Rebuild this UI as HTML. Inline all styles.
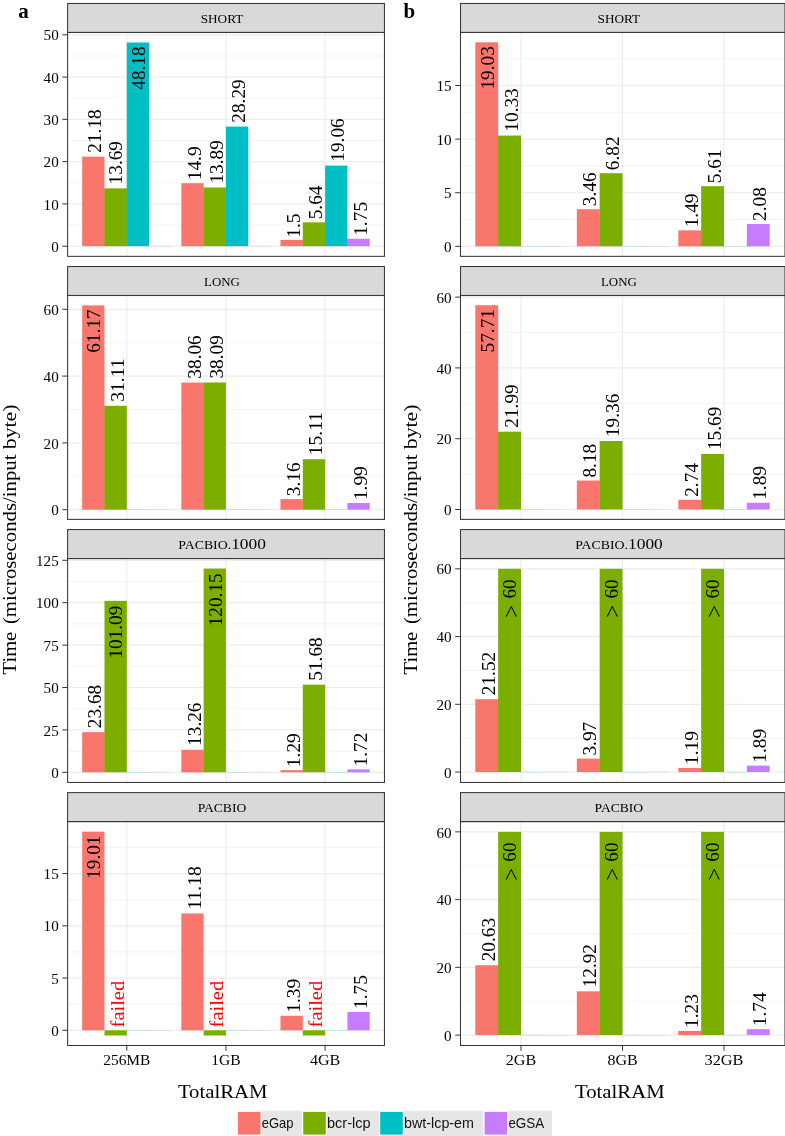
<!DOCTYPE html>
<html lang="en">
<head>
<meta charset="utf-8">
<title>Running time per input byte versus total RAM</title>
<style>
html,body{margin:0;padding:0;background:#fff;}
body{width:785px;height:1136px;overflow:hidden;}
svg{display:block;}
text{white-space:pre;}
</style>
</head>
<body>
<svg width="785" height="1136" viewBox="0 0 785 1136">
<rect x="0" y="0" width="785" height="1136" fill="#fff"/>
<rect x="67.6" y="32.45" width="316.85" height="223.90" fill="#fff"/>
<line x1="67.6" x2="384.45" y1="225.06" y2="225.06" stroke="#f4f4f4" stroke-width="1.1"/>
<line x1="67.6" x2="384.45" y1="182.78" y2="182.78" stroke="#f4f4f4" stroke-width="1.1"/>
<line x1="67.6" x2="384.45" y1="140.50" y2="140.50" stroke="#f4f4f4" stroke-width="1.1"/>
<line x1="67.6" x2="384.45" y1="98.22" y2="98.22" stroke="#f4f4f4" stroke-width="1.1"/>
<line x1="67.6" x2="384.45" y1="55.94" y2="55.94" stroke="#f4f4f4" stroke-width="1.1"/>
<line x1="67.6" x2="384.45" y1="246.20" y2="246.20" stroke="#ededed" stroke-width="1.2"/>
<line x1="67.6" x2="384.45" y1="203.92" y2="203.92" stroke="#ededed" stroke-width="1.2"/>
<line x1="67.6" x2="384.45" y1="161.64" y2="161.64" stroke="#ededed" stroke-width="1.2"/>
<line x1="67.6" x2="384.45" y1="119.36" y2="119.36" stroke="#ededed" stroke-width="1.2"/>
<line x1="67.6" x2="384.45" y1="77.08" y2="77.08" stroke="#ededed" stroke-width="1.2"/>
<line x1="67.6" x2="384.45" y1="34.80" y2="34.80" stroke="#ededed" stroke-width="1.2"/>
<line x1="126.80" x2="126.80" y1="32.45" y2="256.35" stroke="#ededed" stroke-width="1.2"/>
<line x1="225.95" x2="225.95" y1="32.45" y2="256.35" stroke="#ededed" stroke-width="1.2"/>
<line x1="325.10" x2="325.10" y1="32.45" y2="256.35" stroke="#ededed" stroke-width="1.2"/>
<rect x="82.18" y="156.65" width="22.31" height="89.55" fill="#F8766D"/>
<rect x="104.29" y="188.32" width="0.8" height="57.88" fill="#F8766D"/>
<text x="101.44" y="152.71" transform="rotate(-90 101.44 152.71)" font-family="'Liberation Serif', serif" font-size="18.9" text-anchor="start" fill="#000" textLength="43.40" lengthAdjust="spacingAndGlyphs">21.18</text>
<rect x="104.49" y="188.32" width="22.31" height="57.88" fill="#7CAE00"/>
<rect x="126.60" y="188.32" width="0.8" height="57.88" fill="#7CAE00"/>
<text x="121.95" y="184.38" transform="rotate(-90 121.95 184.38)" font-family="'Liberation Serif', serif" font-size="18.9" text-anchor="start" fill="#000" textLength="43.40" lengthAdjust="spacingAndGlyphs">13.69</text>
<rect x="126.80" y="42.49" width="22.31" height="203.71" fill="#00BFC4"/>
<text x="144.75" y="46.33" transform="rotate(-90 144.75 46.33)" font-family="'Liberation Serif', serif" font-size="18.9" text-anchor="end" fill="#000" textLength="43.40" lengthAdjust="spacingAndGlyphs">48.18</text>
<rect x="149.11" y="246.00" width="22.31" height="0.4" fill="#C77CFF" opacity="0.45"/>
<rect x="181.33" y="183.20" width="22.31" height="63.00" fill="#F8766D"/>
<rect x="203.44" y="187.47" width="0.8" height="58.73" fill="#F8766D"/>
<text x="200.59" y="180.22" transform="rotate(-90 200.59 180.22)" font-family="'Liberation Serif', serif" font-size="18.9" text-anchor="start" fill="#000" textLength="33.87" lengthAdjust="spacingAndGlyphs">14.9</text>
<rect x="203.64" y="187.47" width="22.31" height="58.73" fill="#7CAE00"/>
<rect x="225.75" y="187.47" width="0.8" height="58.73" fill="#7CAE00"/>
<text x="222.90" y="183.53" transform="rotate(-90 222.90 183.53)" font-family="'Liberation Serif', serif" font-size="18.9" text-anchor="start" fill="#000" textLength="43.40" lengthAdjust="spacingAndGlyphs">13.89</text>
<rect x="225.95" y="126.59" width="22.31" height="119.61" fill="#00BFC4"/>
<text x="245.20" y="122.65" transform="rotate(-90 245.20 122.65)" font-family="'Liberation Serif', serif" font-size="18.9" text-anchor="start" fill="#000" textLength="43.40" lengthAdjust="spacingAndGlyphs">28.29</text>
<rect x="248.26" y="246.00" width="22.31" height="0.4" fill="#C77CFF" opacity="0.45"/>
<rect x="280.48" y="239.86" width="22.31" height="6.34" fill="#F8766D"/>
<rect x="302.59" y="239.86" width="0.8" height="6.34" fill="#F8766D"/>
<text x="299.74" y="237.82" transform="rotate(-90 299.74 237.82)" font-family="'Liberation Serif', serif" font-size="18.9" text-anchor="start" fill="#000" textLength="24.35" lengthAdjust="spacingAndGlyphs">1.5</text>
<rect x="302.79" y="222.35" width="22.31" height="23.85" fill="#7CAE00"/>
<rect x="324.90" y="222.35" width="0.8" height="23.85" fill="#7CAE00"/>
<text x="322.05" y="219.37" transform="rotate(-90 322.05 219.37)" font-family="'Liberation Serif', serif" font-size="18.9" text-anchor="start" fill="#000" textLength="33.87" lengthAdjust="spacingAndGlyphs">5.64</text>
<rect x="325.10" y="165.61" width="22.31" height="80.59" fill="#00BFC4"/>
<rect x="347.21" y="238.80" width="0.8" height="7.40" fill="#00BFC4"/>
<text x="344.35" y="161.67" transform="rotate(-90 344.35 161.67)" font-family="'Liberation Serif', serif" font-size="18.9" text-anchor="start" fill="#000" textLength="43.40" lengthAdjust="spacingAndGlyphs">19.06</text>
<rect x="347.41" y="238.80" width="22.31" height="7.40" fill="#C77CFF"/>
<text x="366.66" y="235.81" transform="rotate(-90 366.66 235.81)" font-family="'Liberation Serif', serif" font-size="18.9" text-anchor="start" fill="#000" textLength="33.87" lengthAdjust="spacingAndGlyphs">1.75</text>
<rect x="67.6" y="3.45" width="316.85" height="29.00" fill="#d9d9d9" stroke="#383838" stroke-width="1.05"/>
<rect x="67.6" y="32.45" width="316.85" height="223.90" fill="none" stroke="#383838" stroke-width="1.05"/>
<text x="222.00" y="22.70" font-family="'Liberation Serif', serif" font-size="11.7" text-anchor="middle" fill="#000" textLength="42.60" lengthAdjust="spacingAndGlyphs">SHORT</text>
<line x1="62.30" x2="67.60" y1="246.20" y2="246.20" stroke="#383838" stroke-width="1.0"/>
<text x="58.70" y="251.85" font-family="'Liberation Serif', serif" font-size="15" text-anchor="end" fill="#000" textLength="7.55" lengthAdjust="spacingAndGlyphs">0</text>
<line x1="62.30" x2="67.60" y1="203.92" y2="203.92" stroke="#383838" stroke-width="1.0"/>
<text x="58.70" y="209.57" font-family="'Liberation Serif', serif" font-size="15" text-anchor="end" fill="#000" textLength="15.10" lengthAdjust="spacingAndGlyphs">10</text>
<line x1="62.30" x2="67.60" y1="161.64" y2="161.64" stroke="#383838" stroke-width="1.0"/>
<text x="58.70" y="167.29" font-family="'Liberation Serif', serif" font-size="15" text-anchor="end" fill="#000" textLength="15.10" lengthAdjust="spacingAndGlyphs">20</text>
<line x1="62.30" x2="67.60" y1="119.36" y2="119.36" stroke="#383838" stroke-width="1.0"/>
<text x="58.70" y="125.01" font-family="'Liberation Serif', serif" font-size="15" text-anchor="end" fill="#000" textLength="15.10" lengthAdjust="spacingAndGlyphs">30</text>
<line x1="62.30" x2="67.60" y1="77.08" y2="77.08" stroke="#383838" stroke-width="1.0"/>
<text x="58.70" y="82.73" font-family="'Liberation Serif', serif" font-size="15" text-anchor="end" fill="#000" textLength="15.10" lengthAdjust="spacingAndGlyphs">40</text>
<line x1="62.30" x2="67.60" y1="34.80" y2="34.80" stroke="#383838" stroke-width="1.0"/>
<text x="58.70" y="40.45" font-family="'Liberation Serif', serif" font-size="15" text-anchor="end" fill="#000" textLength="15.10" lengthAdjust="spacingAndGlyphs">50</text>
<rect x="67.6" y="295.5" width="316.85" height="223.90" fill="#fff"/>
<line x1="67.6" x2="384.45" y1="476.30" y2="476.30" stroke="#f4f4f4" stroke-width="1.1"/>
<line x1="67.6" x2="384.45" y1="409.50" y2="409.50" stroke="#f4f4f4" stroke-width="1.1"/>
<line x1="67.6" x2="384.45" y1="342.70" y2="342.70" stroke="#f4f4f4" stroke-width="1.1"/>
<line x1="67.6" x2="384.45" y1="509.70" y2="509.70" stroke="#ededed" stroke-width="1.2"/>
<line x1="67.6" x2="384.45" y1="442.90" y2="442.90" stroke="#ededed" stroke-width="1.2"/>
<line x1="67.6" x2="384.45" y1="376.10" y2="376.10" stroke="#ededed" stroke-width="1.2"/>
<line x1="67.6" x2="384.45" y1="309.30" y2="309.30" stroke="#ededed" stroke-width="1.2"/>
<line x1="126.80" x2="126.80" y1="295.5" y2="519.4000000000001" stroke="#ededed" stroke-width="1.2"/>
<line x1="225.95" x2="225.95" y1="295.5" y2="519.4000000000001" stroke="#ededed" stroke-width="1.2"/>
<line x1="325.10" x2="325.10" y1="295.5" y2="519.4000000000001" stroke="#ededed" stroke-width="1.2"/>
<rect x="82.18" y="305.39" width="22.31" height="204.31" fill="#F8766D"/>
<rect x="104.29" y="405.79" width="0.8" height="103.91" fill="#F8766D"/>
<text x="100.14" y="309.23" transform="rotate(-90 100.14 309.23)" font-family="'Liberation Serif', serif" font-size="18.9" text-anchor="end" fill="#000" textLength="43.40" lengthAdjust="spacingAndGlyphs">61.17</text>
<rect x="104.49" y="405.79" width="22.31" height="103.91" fill="#7CAE00"/>
<text x="123.75" y="401.85" transform="rotate(-90 123.75 401.85)" font-family="'Liberation Serif', serif" font-size="18.9" text-anchor="start" fill="#000" textLength="43.40" lengthAdjust="spacingAndGlyphs">31.11</text>
<rect x="126.80" y="509.50" width="22.31" height="0.4" fill="#00BFC4" opacity="0.45"/>
<rect x="149.11" y="509.50" width="22.31" height="0.4" fill="#C77CFF" opacity="0.45"/>
<rect x="181.33" y="382.58" width="22.31" height="127.12" fill="#F8766D"/>
<rect x="203.44" y="382.58" width="0.8" height="127.12" fill="#F8766D"/>
<text x="200.59" y="378.64" transform="rotate(-90 200.59 378.64)" font-family="'Liberation Serif', serif" font-size="18.9" text-anchor="start" fill="#000" textLength="43.40" lengthAdjust="spacingAndGlyphs">38.06</text>
<rect x="203.64" y="382.48" width="22.31" height="127.22" fill="#7CAE00"/>
<text x="222.90" y="378.54" transform="rotate(-90 222.90 378.54)" font-family="'Liberation Serif', serif" font-size="18.9" text-anchor="start" fill="#000" textLength="43.40" lengthAdjust="spacingAndGlyphs">38.09</text>
<rect x="225.95" y="509.50" width="22.31" height="0.4" fill="#00BFC4" opacity="0.45"/>
<rect x="248.26" y="509.50" width="22.31" height="0.4" fill="#C77CFF" opacity="0.45"/>
<rect x="280.48" y="499.15" width="22.31" height="10.55" fill="#F8766D"/>
<rect x="302.59" y="499.15" width="0.8" height="10.55" fill="#F8766D"/>
<text x="299.74" y="496.16" transform="rotate(-90 299.74 496.16)" font-family="'Liberation Serif', serif" font-size="18.9" text-anchor="start" fill="#000" textLength="33.87" lengthAdjust="spacingAndGlyphs">3.16</text>
<rect x="302.79" y="459.23" width="22.31" height="50.47" fill="#7CAE00"/>
<text x="322.05" y="455.29" transform="rotate(-90 322.05 455.29)" font-family="'Liberation Serif', serif" font-size="18.9" text-anchor="start" fill="#000" textLength="43.40" lengthAdjust="spacingAndGlyphs">15.11</text>
<rect x="325.10" y="509.50" width="22.31" height="0.4" fill="#00BFC4" opacity="0.45"/>
<rect x="347.41" y="503.05" width="22.31" height="6.65" fill="#C77CFF"/>
<text x="366.66" y="500.07" transform="rotate(-90 366.66 500.07)" font-family="'Liberation Serif', serif" font-size="18.9" text-anchor="start" fill="#000" textLength="33.87" lengthAdjust="spacingAndGlyphs">1.99</text>
<rect x="67.6" y="266.5" width="316.85" height="29.00" fill="#d9d9d9" stroke="#383838" stroke-width="1.05"/>
<rect x="67.6" y="295.5" width="316.85" height="223.90" fill="none" stroke="#383838" stroke-width="1.05"/>
<text x="222.00" y="285.75" font-family="'Liberation Serif', serif" font-size="11.7" text-anchor="middle" fill="#000" textLength="35.90" lengthAdjust="spacingAndGlyphs">LONG</text>
<line x1="62.30" x2="67.60" y1="509.70" y2="509.70" stroke="#383838" stroke-width="1.0"/>
<text x="58.70" y="515.35" font-family="'Liberation Serif', serif" font-size="15" text-anchor="end" fill="#000" textLength="7.55" lengthAdjust="spacingAndGlyphs">0</text>
<line x1="62.30" x2="67.60" y1="442.90" y2="442.90" stroke="#383838" stroke-width="1.0"/>
<text x="58.70" y="448.55" font-family="'Liberation Serif', serif" font-size="15" text-anchor="end" fill="#000" textLength="15.10" lengthAdjust="spacingAndGlyphs">20</text>
<line x1="62.30" x2="67.60" y1="376.10" y2="376.10" stroke="#383838" stroke-width="1.0"/>
<text x="58.70" y="381.75" font-family="'Liberation Serif', serif" font-size="15" text-anchor="end" fill="#000" textLength="15.10" lengthAdjust="spacingAndGlyphs">40</text>
<line x1="62.30" x2="67.60" y1="309.30" y2="309.30" stroke="#383838" stroke-width="1.0"/>
<text x="58.70" y="314.95" font-family="'Liberation Serif', serif" font-size="15" text-anchor="end" fill="#000" textLength="15.10" lengthAdjust="spacingAndGlyphs">60</text>
<rect x="67.6" y="558.5500000000001" width="316.85" height="223.90" fill="#fff"/>
<line x1="67.6" x2="384.45" y1="751.10" y2="751.10" stroke="#f4f4f4" stroke-width="1.1"/>
<line x1="67.6" x2="384.45" y1="708.70" y2="708.70" stroke="#f4f4f4" stroke-width="1.1"/>
<line x1="67.6" x2="384.45" y1="666.30" y2="666.30" stroke="#f4f4f4" stroke-width="1.1"/>
<line x1="67.6" x2="384.45" y1="623.90" y2="623.90" stroke="#f4f4f4" stroke-width="1.1"/>
<line x1="67.6" x2="384.45" y1="581.50" y2="581.50" stroke="#f4f4f4" stroke-width="1.1"/>
<line x1="67.6" x2="384.45" y1="772.30" y2="772.30" stroke="#ededed" stroke-width="1.2"/>
<line x1="67.6" x2="384.45" y1="729.90" y2="729.90" stroke="#ededed" stroke-width="1.2"/>
<line x1="67.6" x2="384.45" y1="687.50" y2="687.50" stroke="#ededed" stroke-width="1.2"/>
<line x1="67.6" x2="384.45" y1="645.10" y2="645.10" stroke="#ededed" stroke-width="1.2"/>
<line x1="67.6" x2="384.45" y1="602.70" y2="602.70" stroke="#ededed" stroke-width="1.2"/>
<line x1="67.6" x2="384.45" y1="560.30" y2="560.30" stroke="#ededed" stroke-width="1.2"/>
<line x1="126.80" x2="126.80" y1="558.5500000000001" y2="782.45" stroke="#ededed" stroke-width="1.2"/>
<line x1="225.95" x2="225.95" y1="558.5500000000001" y2="782.45" stroke="#ededed" stroke-width="1.2"/>
<line x1="325.10" x2="325.10" y1="558.5500000000001" y2="782.45" stroke="#ededed" stroke-width="1.2"/>
<rect x="82.18" y="732.14" width="22.31" height="40.16" fill="#F8766D"/>
<rect x="104.29" y="732.14" width="0.8" height="40.16" fill="#F8766D"/>
<text x="101.44" y="728.20" transform="rotate(-90 101.44 728.20)" font-family="'Liberation Serif', serif" font-size="18.9" text-anchor="start" fill="#000" textLength="43.40" lengthAdjust="spacingAndGlyphs">23.68</text>
<rect x="104.49" y="600.85" width="22.31" height="171.45" fill="#7CAE00"/>
<text x="122.45" y="605.64" transform="rotate(-90 122.45 605.64)" font-family="'Liberation Serif', serif" font-size="18.9" text-anchor="end" fill="#000" textLength="52.92" lengthAdjust="spacingAndGlyphs">101.09</text>
<rect x="126.80" y="772.10" width="22.31" height="0.4" fill="#00BFC4" opacity="0.45"/>
<rect x="149.11" y="772.10" width="22.31" height="0.4" fill="#C77CFF" opacity="0.45"/>
<rect x="181.33" y="749.81" width="22.31" height="22.49" fill="#F8766D"/>
<rect x="203.44" y="749.81" width="0.8" height="22.49" fill="#F8766D"/>
<text x="200.59" y="745.87" transform="rotate(-90 200.59 745.87)" font-family="'Liberation Serif', serif" font-size="18.9" text-anchor="start" fill="#000" textLength="43.40" lengthAdjust="spacingAndGlyphs">13.26</text>
<rect x="203.64" y="568.53" width="22.31" height="203.77" fill="#7CAE00"/>
<text x="221.60" y="573.32" transform="rotate(-90 221.60 573.32)" font-family="'Liberation Serif', serif" font-size="18.9" text-anchor="end" fill="#000" textLength="52.92" lengthAdjust="spacingAndGlyphs">120.15</text>
<rect x="225.95" y="772.10" width="22.31" height="0.4" fill="#00BFC4" opacity="0.45"/>
<rect x="248.26" y="772.10" width="22.31" height="0.4" fill="#C77CFF" opacity="0.45"/>
<rect x="280.48" y="770.11" width="22.31" height="2.19" fill="#F8766D"/>
<rect x="302.59" y="770.11" width="0.8" height="2.19" fill="#F8766D"/>
<text x="299.74" y="767.13" transform="rotate(-90 299.74 767.13)" font-family="'Liberation Serif', serif" font-size="18.9" text-anchor="start" fill="#000" textLength="33.87" lengthAdjust="spacingAndGlyphs">1.29</text>
<rect x="302.79" y="684.65" width="22.31" height="87.65" fill="#7CAE00"/>
<text x="322.05" y="680.71" transform="rotate(-90 322.05 680.71)" font-family="'Liberation Serif', serif" font-size="18.9" text-anchor="start" fill="#000" textLength="43.40" lengthAdjust="spacingAndGlyphs">51.68</text>
<rect x="325.10" y="772.10" width="22.31" height="0.4" fill="#00BFC4" opacity="0.45"/>
<rect x="347.41" y="769.38" width="22.31" height="2.92" fill="#C77CFF"/>
<text x="366.66" y="766.40" transform="rotate(-90 366.66 766.40)" font-family="'Liberation Serif', serif" font-size="18.9" text-anchor="start" fill="#000" textLength="33.87" lengthAdjust="spacingAndGlyphs">1.72</text>
<rect x="67.6" y="529.5500000000001" width="316.85" height="29.00" fill="#d9d9d9" stroke="#383838" stroke-width="1.05"/>
<rect x="67.6" y="558.5500000000001" width="316.85" height="223.90" fill="none" stroke="#383838" stroke-width="1.05"/>
<text x="178.30" y="548.80" font-family="'Liberation Serif', serif" fill="#000" textLength="87.6" lengthAdjust="spacingAndGlyphs"><tspan font-size="11.7">PACBIO.</tspan><tspan font-size="14.7">1000</tspan></text>
<line x1="62.30" x2="67.60" y1="772.30" y2="772.30" stroke="#383838" stroke-width="1.0"/>
<text x="58.70" y="777.95" font-family="'Liberation Serif', serif" font-size="15" text-anchor="end" fill="#000" textLength="7.55" lengthAdjust="spacingAndGlyphs">0</text>
<line x1="62.30" x2="67.60" y1="729.90" y2="729.90" stroke="#383838" stroke-width="1.0"/>
<text x="58.70" y="735.55" font-family="'Liberation Serif', serif" font-size="15" text-anchor="end" fill="#000" textLength="15.10" lengthAdjust="spacingAndGlyphs">25</text>
<line x1="62.30" x2="67.60" y1="687.50" y2="687.50" stroke="#383838" stroke-width="1.0"/>
<text x="58.70" y="693.15" font-family="'Liberation Serif', serif" font-size="15" text-anchor="end" fill="#000" textLength="15.10" lengthAdjust="spacingAndGlyphs">50</text>
<line x1="62.30" x2="67.60" y1="645.10" y2="645.10" stroke="#383838" stroke-width="1.0"/>
<text x="58.70" y="650.75" font-family="'Liberation Serif', serif" font-size="15" text-anchor="end" fill="#000" textLength="15.10" lengthAdjust="spacingAndGlyphs">75</text>
<line x1="62.30" x2="67.60" y1="602.70" y2="602.70" stroke="#383838" stroke-width="1.0"/>
<text x="58.70" y="608.35" font-family="'Liberation Serif', serif" font-size="15" text-anchor="end" fill="#000" textLength="22.65" lengthAdjust="spacingAndGlyphs">100</text>
<line x1="62.30" x2="67.60" y1="560.30" y2="560.30" stroke="#383838" stroke-width="1.0"/>
<text x="58.70" y="565.95" font-family="'Liberation Serif', serif" font-size="15" text-anchor="end" fill="#000" textLength="22.65" lengthAdjust="spacingAndGlyphs">125</text>
<rect x="67.6" y="821.6000000000001" width="316.85" height="223.90" fill="#fff"/>
<line x1="67.6" x2="384.45" y1="1004.17" y2="1004.17" stroke="#f4f4f4" stroke-width="1.1"/>
<line x1="67.6" x2="384.45" y1="951.92" y2="951.92" stroke="#f4f4f4" stroke-width="1.1"/>
<line x1="67.6" x2="384.45" y1="899.67" y2="899.67" stroke="#f4f4f4" stroke-width="1.1"/>
<line x1="67.6" x2="384.45" y1="847.42" y2="847.42" stroke="#f4f4f4" stroke-width="1.1"/>
<line x1="67.6" x2="384.45" y1="1030.30" y2="1030.30" stroke="#ededed" stroke-width="1.2"/>
<line x1="67.6" x2="384.45" y1="978.05" y2="978.05" stroke="#ededed" stroke-width="1.2"/>
<line x1="67.6" x2="384.45" y1="925.80" y2="925.80" stroke="#ededed" stroke-width="1.2"/>
<line x1="67.6" x2="384.45" y1="873.55" y2="873.55" stroke="#ededed" stroke-width="1.2"/>
<line x1="126.80" x2="126.80" y1="821.6000000000001" y2="1045.5" stroke="#ededed" stroke-width="1.2"/>
<line x1="225.95" x2="225.95" y1="821.6000000000001" y2="1045.5" stroke="#ededed" stroke-width="1.2"/>
<line x1="325.10" x2="325.10" y1="821.6000000000001" y2="1045.5" stroke="#ededed" stroke-width="1.2"/>
<rect x="82.18" y="831.65" width="22.31" height="198.65" fill="#F8766D"/>
<text x="100.14" y="835.49" transform="rotate(-90 100.14 835.49)" font-family="'Liberation Serif', serif" font-size="18.9" text-anchor="end" fill="#000" textLength="43.40" lengthAdjust="spacingAndGlyphs">19.01</text>
<rect x="104.49" y="1030.30" width="22.31" height="5.22" fill="#7CAE00"/>
<text x="123.95" y="1027.40" transform="rotate(-90 123.95 1027.40)" font-family="'Liberation Serif', serif" font-size="18.9" text-anchor="start" fill="#ff0000" textLength="46.60" lengthAdjust="spacingAndGlyphs">failed</text>
<rect x="126.80" y="1030.10" width="22.31" height="0.4" fill="#00BFC4" opacity="0.45"/>
<rect x="149.11" y="1030.10" width="22.31" height="0.4" fill="#C77CFF" opacity="0.45"/>
<rect x="181.33" y="913.47" width="22.31" height="116.83" fill="#F8766D"/>
<text x="200.59" y="909.53" transform="rotate(-90 200.59 909.53)" font-family="'Liberation Serif', serif" font-size="18.9" text-anchor="start" fill="#000" textLength="43.40" lengthAdjust="spacingAndGlyphs">11.18</text>
<rect x="203.64" y="1030.30" width="22.31" height="5.22" fill="#7CAE00"/>
<text x="223.10" y="1027.40" transform="rotate(-90 223.10 1027.40)" font-family="'Liberation Serif', serif" font-size="18.9" text-anchor="start" fill="#ff0000" textLength="46.60" lengthAdjust="spacingAndGlyphs">failed</text>
<rect x="225.95" y="1030.10" width="22.31" height="0.4" fill="#00BFC4" opacity="0.45"/>
<rect x="248.26" y="1030.10" width="22.31" height="0.4" fill="#C77CFF" opacity="0.45"/>
<rect x="280.48" y="1015.77" width="22.31" height="14.53" fill="#F8766D"/>
<text x="299.74" y="1012.79" transform="rotate(-90 299.74 1012.79)" font-family="'Liberation Serif', serif" font-size="18.9" text-anchor="start" fill="#000" textLength="33.87" lengthAdjust="spacingAndGlyphs">1.39</text>
<rect x="302.79" y="1030.30" width="22.31" height="5.22" fill="#7CAE00"/>
<text x="322.25" y="1027.40" transform="rotate(-90 322.25 1027.40)" font-family="'Liberation Serif', serif" font-size="18.9" text-anchor="start" fill="#ff0000" textLength="46.60" lengthAdjust="spacingAndGlyphs">failed</text>
<rect x="325.10" y="1030.10" width="22.31" height="0.4" fill="#00BFC4" opacity="0.45"/>
<rect x="347.41" y="1012.01" width="22.31" height="18.29" fill="#C77CFF"/>
<text x="366.66" y="1009.03" transform="rotate(-90 366.66 1009.03)" font-family="'Liberation Serif', serif" font-size="18.9" text-anchor="start" fill="#000" textLength="33.87" lengthAdjust="spacingAndGlyphs">1.75</text>
<rect x="67.6" y="792.6000000000001" width="316.85" height="29.00" fill="#d9d9d9" stroke="#383838" stroke-width="1.05"/>
<rect x="67.6" y="821.6000000000001" width="316.85" height="223.90" fill="none" stroke="#383838" stroke-width="1.05"/>
<text x="222.00" y="811.85" font-family="'Liberation Serif', serif" font-size="11.7" text-anchor="middle" fill="#000" textLength="48.60" lengthAdjust="spacingAndGlyphs">PACBIO</text>
<line x1="62.30" x2="67.60" y1="1030.30" y2="1030.30" stroke="#383838" stroke-width="1.0"/>
<text x="58.70" y="1035.95" font-family="'Liberation Serif', serif" font-size="15" text-anchor="end" fill="#000" textLength="7.55" lengthAdjust="spacingAndGlyphs">0</text>
<line x1="62.30" x2="67.60" y1="978.05" y2="978.05" stroke="#383838" stroke-width="1.0"/>
<text x="58.70" y="983.70" font-family="'Liberation Serif', serif" font-size="15" text-anchor="end" fill="#000" textLength="7.55" lengthAdjust="spacingAndGlyphs">5</text>
<line x1="62.30" x2="67.60" y1="925.80" y2="925.80" stroke="#383838" stroke-width="1.0"/>
<text x="58.70" y="931.45" font-family="'Liberation Serif', serif" font-size="15" text-anchor="end" fill="#000" textLength="15.10" lengthAdjust="spacingAndGlyphs">10</text>
<line x1="62.30" x2="67.60" y1="873.55" y2="873.55" stroke="#383838" stroke-width="1.0"/>
<text x="58.70" y="879.20" font-family="'Liberation Serif', serif" font-size="15" text-anchor="end" fill="#000" textLength="15.10" lengthAdjust="spacingAndGlyphs">15</text>
<line x1="126.80" x2="126.80" y1="1045.5" y2="1050.80" stroke="#383838" stroke-width="1.0"/>
<text x="126.80" y="1065.30" font-family="'Liberation Serif', serif" font-size="15.4" text-anchor="middle" fill="#000" textLength="47.20" lengthAdjust="spacingAndGlyphs">256MB</text>
<line x1="225.95" x2="225.95" y1="1045.5" y2="1050.80" stroke="#383838" stroke-width="1.0"/>
<text x="225.95" y="1065.30" font-family="'Liberation Serif', serif" font-size="15.4" text-anchor="middle" fill="#000" textLength="29.40" lengthAdjust="spacingAndGlyphs">1GB</text>
<line x1="325.10" x2="325.10" y1="1045.5" y2="1050.80" stroke="#383838" stroke-width="1.0"/>
<text x="325.10" y="1065.30" font-family="'Liberation Serif', serif" font-size="15.4" text-anchor="middle" fill="#000" textLength="30.40" lengthAdjust="spacingAndGlyphs">4GB</text>
<text x="222.70" y="1097.90" font-family="'Liberation Serif', serif" font-size="19.4" text-anchor="middle" fill="#000" textLength="89.60" lengthAdjust="spacingAndGlyphs">TotalRAM</text>
<rect x="460.5" y="32.45" width="324.50" height="223.90" fill="#fff"/>
<line x1="460.5" x2="785.0" y1="219.50" y2="219.50" stroke="#f4f4f4" stroke-width="1.1"/>
<line x1="460.5" x2="785.0" y1="165.90" y2="165.90" stroke="#f4f4f4" stroke-width="1.1"/>
<line x1="460.5" x2="785.0" y1="112.30" y2="112.30" stroke="#f4f4f4" stroke-width="1.1"/>
<line x1="460.5" x2="785.0" y1="58.70" y2="58.70" stroke="#f4f4f4" stroke-width="1.1"/>
<line x1="460.5" x2="785.0" y1="246.30" y2="246.30" stroke="#ededed" stroke-width="1.2"/>
<line x1="460.5" x2="785.0" y1="192.70" y2="192.70" stroke="#ededed" stroke-width="1.2"/>
<line x1="460.5" x2="785.0" y1="139.10" y2="139.10" stroke="#ededed" stroke-width="1.2"/>
<line x1="460.5" x2="785.0" y1="85.50" y2="85.50" stroke="#ededed" stroke-width="1.2"/>
<line x1="521.00" x2="521.00" y1="32.45" y2="256.35" stroke="#ededed" stroke-width="1.2"/>
<line x1="622.50" x2="622.50" y1="32.45" y2="256.35" stroke="#ededed" stroke-width="1.2"/>
<line x1="724.00" x2="724.00" y1="32.45" y2="256.35" stroke="#ededed" stroke-width="1.2"/>
<rect x="475.32" y="42.30" width="22.84" height="204.00" fill="#F8766D"/>
<rect x="497.96" y="135.56" width="0.8" height="110.74" fill="#F8766D"/>
<text x="493.54" y="46.14" transform="rotate(-90 493.54 46.14)" font-family="'Liberation Serif', serif" font-size="18.9" text-anchor="end" fill="#000" textLength="43.40" lengthAdjust="spacingAndGlyphs">19.03</text>
<rect x="498.16" y="135.56" width="22.84" height="110.74" fill="#7CAE00"/>
<text x="517.68" y="131.62" transform="rotate(-90 517.68 131.62)" font-family="'Liberation Serif', serif" font-size="18.9" text-anchor="start" fill="#000" textLength="43.40" lengthAdjust="spacingAndGlyphs">10.33</text>
<rect x="521.00" y="246.10" width="22.84" height="0.4" fill="#00BFC4" opacity="0.45"/>
<rect x="543.84" y="246.10" width="22.84" height="0.4" fill="#C77CFF" opacity="0.45"/>
<rect x="576.83" y="209.21" width="22.84" height="37.09" fill="#F8766D"/>
<rect x="599.46" y="209.21" width="0.8" height="37.09" fill="#F8766D"/>
<text x="596.34" y="206.22" transform="rotate(-90 596.34 206.22)" font-family="'Liberation Serif', serif" font-size="18.9" text-anchor="start" fill="#000" textLength="33.87" lengthAdjust="spacingAndGlyphs">3.46</text>
<rect x="599.66" y="173.19" width="22.84" height="73.11" fill="#7CAE00"/>
<text x="619.18" y="170.20" transform="rotate(-90 619.18 170.20)" font-family="'Liberation Serif', serif" font-size="18.9" text-anchor="start" fill="#000" textLength="33.87" lengthAdjust="spacingAndGlyphs">6.82</text>
<rect x="622.50" y="246.10" width="22.84" height="0.4" fill="#00BFC4" opacity="0.45"/>
<rect x="645.34" y="246.10" width="22.84" height="0.4" fill="#C77CFF" opacity="0.45"/>
<rect x="678.33" y="230.33" width="22.84" height="15.97" fill="#F8766D"/>
<rect x="700.96" y="230.33" width="0.8" height="15.97" fill="#F8766D"/>
<text x="697.84" y="227.34" transform="rotate(-90 697.84 227.34)" font-family="'Liberation Serif', serif" font-size="18.9" text-anchor="start" fill="#000" textLength="33.87" lengthAdjust="spacingAndGlyphs">1.49</text>
<rect x="701.16" y="186.16" width="22.84" height="60.14" fill="#7CAE00"/>
<text x="720.68" y="183.17" transform="rotate(-90 720.68 183.17)" font-family="'Liberation Serif', serif" font-size="18.9" text-anchor="start" fill="#000" textLength="33.87" lengthAdjust="spacingAndGlyphs">5.61</text>
<rect x="724.00" y="246.10" width="22.84" height="0.4" fill="#00BFC4" opacity="0.45"/>
<rect x="746.84" y="224.00" width="22.84" height="22.30" fill="#C77CFF"/>
<text x="766.36" y="221.02" transform="rotate(-90 766.36 221.02)" font-family="'Liberation Serif', serif" font-size="18.9" text-anchor="start" fill="#000" textLength="33.87" lengthAdjust="spacingAndGlyphs">2.08</text>
<rect x="460.5" y="3.45" width="324.50" height="29.00" fill="#d9d9d9" stroke="#383838" stroke-width="1.05"/>
<rect x="460.5" y="32.45" width="324.50" height="223.90" fill="none" stroke="#383838" stroke-width="1.05"/>
<text x="618.90" y="22.70" font-family="'Liberation Serif', serif" font-size="11.7" text-anchor="middle" fill="#000" textLength="42.60" lengthAdjust="spacingAndGlyphs">SHORT</text>
<line x1="455.20" x2="460.50" y1="246.30" y2="246.30" stroke="#383838" stroke-width="1.0"/>
<text x="451.60" y="251.95" font-family="'Liberation Serif', serif" font-size="15" text-anchor="end" fill="#000" textLength="7.55" lengthAdjust="spacingAndGlyphs">0</text>
<line x1="455.20" x2="460.50" y1="192.70" y2="192.70" stroke="#383838" stroke-width="1.0"/>
<text x="451.60" y="198.35" font-family="'Liberation Serif', serif" font-size="15" text-anchor="end" fill="#000" textLength="7.55" lengthAdjust="spacingAndGlyphs">5</text>
<line x1="455.20" x2="460.50" y1="139.10" y2="139.10" stroke="#383838" stroke-width="1.0"/>
<text x="451.60" y="144.75" font-family="'Liberation Serif', serif" font-size="15" text-anchor="end" fill="#000" textLength="15.10" lengthAdjust="spacingAndGlyphs">10</text>
<line x1="455.20" x2="460.50" y1="85.50" y2="85.50" stroke="#383838" stroke-width="1.0"/>
<text x="451.60" y="91.15" font-family="'Liberation Serif', serif" font-size="15" text-anchor="end" fill="#000" textLength="15.10" lengthAdjust="spacingAndGlyphs">15</text>
<rect x="460.5" y="295.5" width="324.50" height="223.90" fill="#fff"/>
<line x1="460.5" x2="785.0" y1="474.10" y2="474.10" stroke="#f4f4f4" stroke-width="1.1"/>
<line x1="460.5" x2="785.0" y1="403.30" y2="403.30" stroke="#f4f4f4" stroke-width="1.1"/>
<line x1="460.5" x2="785.0" y1="332.50" y2="332.50" stroke="#f4f4f4" stroke-width="1.1"/>
<line x1="460.5" x2="785.0" y1="509.50" y2="509.50" stroke="#ededed" stroke-width="1.2"/>
<line x1="460.5" x2="785.0" y1="438.70" y2="438.70" stroke="#ededed" stroke-width="1.2"/>
<line x1="460.5" x2="785.0" y1="367.90" y2="367.90" stroke="#ededed" stroke-width="1.2"/>
<line x1="460.5" x2="785.0" y1="297.10" y2="297.10" stroke="#ededed" stroke-width="1.2"/>
<line x1="521.00" x2="521.00" y1="295.5" y2="519.4000000000001" stroke="#ededed" stroke-width="1.2"/>
<line x1="622.50" x2="622.50" y1="295.5" y2="519.4000000000001" stroke="#ededed" stroke-width="1.2"/>
<line x1="724.00" x2="724.00" y1="295.5" y2="519.4000000000001" stroke="#ededed" stroke-width="1.2"/>
<rect x="475.32" y="305.21" width="22.84" height="204.29" fill="#F8766D"/>
<rect x="497.96" y="431.66" width="0.8" height="77.84" fill="#F8766D"/>
<text x="493.54" y="309.05" transform="rotate(-90 493.54 309.05)" font-family="'Liberation Serif', serif" font-size="18.9" text-anchor="end" fill="#000" textLength="43.40" lengthAdjust="spacingAndGlyphs">57.71</text>
<rect x="498.16" y="431.66" width="22.84" height="77.84" fill="#7CAE00"/>
<text x="517.68" y="427.72" transform="rotate(-90 517.68 427.72)" font-family="'Liberation Serif', serif" font-size="18.9" text-anchor="start" fill="#000" textLength="43.40" lengthAdjust="spacingAndGlyphs">21.99</text>
<rect x="521.00" y="509.30" width="22.84" height="0.4" fill="#00BFC4" opacity="0.45"/>
<rect x="543.84" y="509.30" width="22.84" height="0.4" fill="#C77CFF" opacity="0.45"/>
<rect x="576.83" y="480.54" width="22.84" height="28.96" fill="#F8766D"/>
<rect x="599.46" y="480.54" width="0.8" height="28.96" fill="#F8766D"/>
<text x="596.34" y="477.56" transform="rotate(-90 596.34 477.56)" font-family="'Liberation Serif', serif" font-size="18.9" text-anchor="start" fill="#000" textLength="33.87" lengthAdjust="spacingAndGlyphs">8.18</text>
<rect x="599.66" y="440.97" width="22.84" height="68.53" fill="#7CAE00"/>
<text x="619.18" y="437.03" transform="rotate(-90 619.18 437.03)" font-family="'Liberation Serif', serif" font-size="18.9" text-anchor="start" fill="#000" textLength="43.40" lengthAdjust="spacingAndGlyphs">19.36</text>
<rect x="622.50" y="509.30" width="22.84" height="0.4" fill="#00BFC4" opacity="0.45"/>
<rect x="645.34" y="509.30" width="22.84" height="0.4" fill="#C77CFF" opacity="0.45"/>
<rect x="678.33" y="499.80" width="22.84" height="9.70" fill="#F8766D"/>
<rect x="700.96" y="499.80" width="0.8" height="9.70" fill="#F8766D"/>
<text x="697.84" y="496.81" transform="rotate(-90 697.84 496.81)" font-family="'Liberation Serif', serif" font-size="18.9" text-anchor="start" fill="#000" textLength="33.87" lengthAdjust="spacingAndGlyphs">2.74</text>
<rect x="701.16" y="453.96" width="22.84" height="55.54" fill="#7CAE00"/>
<text x="720.68" y="450.02" transform="rotate(-90 720.68 450.02)" font-family="'Liberation Serif', serif" font-size="18.9" text-anchor="start" fill="#000" textLength="43.40" lengthAdjust="spacingAndGlyphs">15.69</text>
<rect x="724.00" y="509.30" width="22.84" height="0.4" fill="#00BFC4" opacity="0.45"/>
<rect x="746.84" y="502.81" width="22.84" height="6.69" fill="#C77CFF"/>
<text x="766.36" y="499.82" transform="rotate(-90 766.36 499.82)" font-family="'Liberation Serif', serif" font-size="18.9" text-anchor="start" fill="#000" textLength="33.87" lengthAdjust="spacingAndGlyphs">1.89</text>
<rect x="460.5" y="266.5" width="324.50" height="29.00" fill="#d9d9d9" stroke="#383838" stroke-width="1.05"/>
<rect x="460.5" y="295.5" width="324.50" height="223.90" fill="none" stroke="#383838" stroke-width="1.05"/>
<text x="618.90" y="285.75" font-family="'Liberation Serif', serif" font-size="11.7" text-anchor="middle" fill="#000" textLength="35.90" lengthAdjust="spacingAndGlyphs">LONG</text>
<line x1="455.20" x2="460.50" y1="509.50" y2="509.50" stroke="#383838" stroke-width="1.0"/>
<text x="451.60" y="515.15" font-family="'Liberation Serif', serif" font-size="15" text-anchor="end" fill="#000" textLength="7.55" lengthAdjust="spacingAndGlyphs">0</text>
<line x1="455.20" x2="460.50" y1="438.70" y2="438.70" stroke="#383838" stroke-width="1.0"/>
<text x="451.60" y="444.35" font-family="'Liberation Serif', serif" font-size="15" text-anchor="end" fill="#000" textLength="15.10" lengthAdjust="spacingAndGlyphs">20</text>
<line x1="455.20" x2="460.50" y1="367.90" y2="367.90" stroke="#383838" stroke-width="1.0"/>
<text x="451.60" y="373.55" font-family="'Liberation Serif', serif" font-size="15" text-anchor="end" fill="#000" textLength="15.10" lengthAdjust="spacingAndGlyphs">40</text>
<line x1="455.20" x2="460.50" y1="297.10" y2="297.10" stroke="#383838" stroke-width="1.0"/>
<text x="451.60" y="302.75" font-family="'Liberation Serif', serif" font-size="15" text-anchor="end" fill="#000" textLength="15.10" lengthAdjust="spacingAndGlyphs">60</text>
<rect x="460.5" y="558.5500000000001" width="324.50" height="223.90" fill="#fff"/>
<line x1="460.5" x2="785.0" y1="738.17" y2="738.17" stroke="#f4f4f4" stroke-width="1.1"/>
<line x1="460.5" x2="785.0" y1="670.42" y2="670.42" stroke="#f4f4f4" stroke-width="1.1"/>
<line x1="460.5" x2="785.0" y1="602.67" y2="602.67" stroke="#f4f4f4" stroke-width="1.1"/>
<line x1="460.5" x2="785.0" y1="772.05" y2="772.05" stroke="#ededed" stroke-width="1.2"/>
<line x1="460.5" x2="785.0" y1="704.30" y2="704.30" stroke="#ededed" stroke-width="1.2"/>
<line x1="460.5" x2="785.0" y1="636.55" y2="636.55" stroke="#ededed" stroke-width="1.2"/>
<line x1="460.5" x2="785.0" y1="568.80" y2="568.80" stroke="#ededed" stroke-width="1.2"/>
<line x1="521.00" x2="521.00" y1="558.5500000000001" y2="782.45" stroke="#ededed" stroke-width="1.2"/>
<line x1="622.50" x2="622.50" y1="558.5500000000001" y2="782.45" stroke="#ededed" stroke-width="1.2"/>
<line x1="724.00" x2="724.00" y1="558.5500000000001" y2="782.45" stroke="#ededed" stroke-width="1.2"/>
<rect x="475.32" y="699.15" width="22.84" height="72.90" fill="#F8766D"/>
<rect x="497.96" y="699.15" width="0.8" height="72.90" fill="#F8766D"/>
<text x="494.84" y="695.21" transform="rotate(-90 494.84 695.21)" font-family="'Liberation Serif', serif" font-size="18.9" text-anchor="start" fill="#000" textLength="43.40" lengthAdjust="spacingAndGlyphs">21.52</text>
<rect x="498.16" y="568.80" width="22.84" height="203.25" fill="#7CAE00"/>
<text transform="translate(516.08 579.40) rotate(-90)" font-family="'Liberation Serif', serif" font-size="18.9" text-anchor="end" fill="#000"><tspan font-size="23" dy="2.6">&gt;</tspan><tspan dx="6.2" dy="-2.6" textLength="19.2" lengthAdjust="spacingAndGlyphs">60</tspan></text>
<rect x="521.00" y="771.85" width="22.84" height="0.4" fill="#00BFC4" opacity="0.45"/>
<rect x="543.84" y="771.85" width="22.84" height="0.4" fill="#C77CFF" opacity="0.45"/>
<rect x="576.83" y="758.60" width="22.84" height="13.45" fill="#F8766D"/>
<rect x="599.46" y="758.60" width="0.8" height="13.45" fill="#F8766D"/>
<text x="596.34" y="755.61" transform="rotate(-90 596.34 755.61)" font-family="'Liberation Serif', serif" font-size="18.9" text-anchor="start" fill="#000" textLength="33.87" lengthAdjust="spacingAndGlyphs">3.97</text>
<rect x="599.66" y="568.80" width="22.84" height="203.25" fill="#7CAE00"/>
<text transform="translate(617.58 579.40) rotate(-90)" font-family="'Liberation Serif', serif" font-size="18.9" text-anchor="end" fill="#000"><tspan font-size="23" dy="2.6">&gt;</tspan><tspan dx="6.2" dy="-2.6" textLength="19.2" lengthAdjust="spacingAndGlyphs">60</tspan></text>
<rect x="622.50" y="771.85" width="22.84" height="0.4" fill="#00BFC4" opacity="0.45"/>
<rect x="645.34" y="771.85" width="22.84" height="0.4" fill="#C77CFF" opacity="0.45"/>
<rect x="678.33" y="768.02" width="22.84" height="4.03" fill="#F8766D"/>
<rect x="700.96" y="768.02" width="0.8" height="4.03" fill="#F8766D"/>
<text x="697.84" y="765.03" transform="rotate(-90 697.84 765.03)" font-family="'Liberation Serif', serif" font-size="18.9" text-anchor="start" fill="#000" textLength="33.87" lengthAdjust="spacingAndGlyphs">1.19</text>
<rect x="701.16" y="568.80" width="22.84" height="203.25" fill="#7CAE00"/>
<text transform="translate(719.08 579.40) rotate(-90)" font-family="'Liberation Serif', serif" font-size="18.9" text-anchor="end" fill="#000"><tspan font-size="23" dy="2.6">&gt;</tspan><tspan dx="6.2" dy="-2.6" textLength="19.2" lengthAdjust="spacingAndGlyphs">60</tspan></text>
<rect x="724.00" y="771.85" width="22.84" height="0.4" fill="#00BFC4" opacity="0.45"/>
<rect x="746.84" y="765.65" width="22.84" height="6.40" fill="#C77CFF"/>
<text x="766.36" y="762.66" transform="rotate(-90 766.36 762.66)" font-family="'Liberation Serif', serif" font-size="18.9" text-anchor="start" fill="#000" textLength="33.87" lengthAdjust="spacingAndGlyphs">1.89</text>
<rect x="460.5" y="529.5500000000001" width="324.50" height="29.00" fill="#d9d9d9" stroke="#383838" stroke-width="1.05"/>
<rect x="460.5" y="558.5500000000001" width="324.50" height="223.90" fill="none" stroke="#383838" stroke-width="1.05"/>
<text x="575.20" y="548.80" font-family="'Liberation Serif', serif" fill="#000" textLength="87.6" lengthAdjust="spacingAndGlyphs"><tspan font-size="11.7">PACBIO.</tspan><tspan font-size="14.7">1000</tspan></text>
<line x1="455.20" x2="460.50" y1="772.05" y2="772.05" stroke="#383838" stroke-width="1.0"/>
<text x="451.60" y="777.70" font-family="'Liberation Serif', serif" font-size="15" text-anchor="end" fill="#000" textLength="7.55" lengthAdjust="spacingAndGlyphs">0</text>
<line x1="455.20" x2="460.50" y1="704.30" y2="704.30" stroke="#383838" stroke-width="1.0"/>
<text x="451.60" y="709.95" font-family="'Liberation Serif', serif" font-size="15" text-anchor="end" fill="#000" textLength="15.10" lengthAdjust="spacingAndGlyphs">20</text>
<line x1="455.20" x2="460.50" y1="636.55" y2="636.55" stroke="#383838" stroke-width="1.0"/>
<text x="451.60" y="642.20" font-family="'Liberation Serif', serif" font-size="15" text-anchor="end" fill="#000" textLength="15.10" lengthAdjust="spacingAndGlyphs">40</text>
<line x1="455.20" x2="460.50" y1="568.80" y2="568.80" stroke="#383838" stroke-width="1.0"/>
<text x="451.60" y="574.45" font-family="'Liberation Serif', serif" font-size="15" text-anchor="end" fill="#000" textLength="15.10" lengthAdjust="spacingAndGlyphs">60</text>
<rect x="460.5" y="821.6000000000001" width="324.50" height="223.90" fill="#fff"/>
<line x1="460.5" x2="785.0" y1="1001.22" y2="1001.22" stroke="#f4f4f4" stroke-width="1.1"/>
<line x1="460.5" x2="785.0" y1="933.47" y2="933.47" stroke="#f4f4f4" stroke-width="1.1"/>
<line x1="460.5" x2="785.0" y1="865.72" y2="865.72" stroke="#f4f4f4" stroke-width="1.1"/>
<line x1="460.5" x2="785.0" y1="1035.10" y2="1035.10" stroke="#ededed" stroke-width="1.2"/>
<line x1="460.5" x2="785.0" y1="967.35" y2="967.35" stroke="#ededed" stroke-width="1.2"/>
<line x1="460.5" x2="785.0" y1="899.60" y2="899.60" stroke="#ededed" stroke-width="1.2"/>
<line x1="460.5" x2="785.0" y1="831.85" y2="831.85" stroke="#ededed" stroke-width="1.2"/>
<line x1="521.00" x2="521.00" y1="821.6000000000001" y2="1045.5" stroke="#ededed" stroke-width="1.2"/>
<line x1="622.50" x2="622.50" y1="821.6000000000001" y2="1045.5" stroke="#ededed" stroke-width="1.2"/>
<line x1="724.00" x2="724.00" y1="821.6000000000001" y2="1045.5" stroke="#ededed" stroke-width="1.2"/>
<rect x="475.32" y="965.22" width="22.84" height="69.88" fill="#F8766D"/>
<rect x="497.96" y="965.22" width="0.8" height="69.88" fill="#F8766D"/>
<text x="494.84" y="961.28" transform="rotate(-90 494.84 961.28)" font-family="'Liberation Serif', serif" font-size="18.9" text-anchor="start" fill="#000" textLength="43.40" lengthAdjust="spacingAndGlyphs">20.63</text>
<rect x="498.16" y="831.85" width="22.84" height="203.25" fill="#7CAE00"/>
<text transform="translate(516.08 842.45) rotate(-90)" font-family="'Liberation Serif', serif" font-size="18.9" text-anchor="end" fill="#000"><tspan font-size="23" dy="2.6">&gt;</tspan><tspan dx="6.2" dy="-2.6" textLength="19.2" lengthAdjust="spacingAndGlyphs">60</tspan></text>
<rect x="521.00" y="1034.90" width="22.84" height="0.4" fill="#00BFC4" opacity="0.45"/>
<rect x="543.84" y="1034.90" width="22.84" height="0.4" fill="#C77CFF" opacity="0.45"/>
<rect x="576.83" y="991.33" width="22.84" height="43.77" fill="#F8766D"/>
<rect x="599.46" y="991.33" width="0.8" height="43.77" fill="#F8766D"/>
<text x="596.34" y="987.39" transform="rotate(-90 596.34 987.39)" font-family="'Liberation Serif', serif" font-size="18.9" text-anchor="start" fill="#000" textLength="43.40" lengthAdjust="spacingAndGlyphs">12.92</text>
<rect x="599.66" y="831.85" width="22.84" height="203.25" fill="#7CAE00"/>
<text transform="translate(617.58 842.45) rotate(-90)" font-family="'Liberation Serif', serif" font-size="18.9" text-anchor="end" fill="#000"><tspan font-size="23" dy="2.6">&gt;</tspan><tspan dx="6.2" dy="-2.6" textLength="19.2" lengthAdjust="spacingAndGlyphs">60</tspan></text>
<rect x="622.50" y="1034.90" width="22.84" height="0.4" fill="#00BFC4" opacity="0.45"/>
<rect x="645.34" y="1034.90" width="22.84" height="0.4" fill="#C77CFF" opacity="0.45"/>
<rect x="678.33" y="1030.93" width="22.84" height="4.17" fill="#F8766D"/>
<rect x="700.96" y="1030.93" width="0.8" height="4.17" fill="#F8766D"/>
<text x="697.84" y="1027.95" transform="rotate(-90 697.84 1027.95)" font-family="'Liberation Serif', serif" font-size="18.9" text-anchor="start" fill="#000" textLength="33.87" lengthAdjust="spacingAndGlyphs">1.23</text>
<rect x="701.16" y="831.85" width="22.84" height="203.25" fill="#7CAE00"/>
<text transform="translate(719.08 842.45) rotate(-90)" font-family="'Liberation Serif', serif" font-size="18.9" text-anchor="end" fill="#000"><tspan font-size="23" dy="2.6">&gt;</tspan><tspan dx="6.2" dy="-2.6" textLength="19.2" lengthAdjust="spacingAndGlyphs">60</tspan></text>
<rect x="724.00" y="1034.90" width="22.84" height="0.4" fill="#00BFC4" opacity="0.45"/>
<rect x="746.84" y="1029.21" width="22.84" height="5.89" fill="#C77CFF"/>
<text x="766.36" y="1026.22" transform="rotate(-90 766.36 1026.22)" font-family="'Liberation Serif', serif" font-size="18.9" text-anchor="start" fill="#000" textLength="33.87" lengthAdjust="spacingAndGlyphs">1.74</text>
<rect x="460.5" y="792.6000000000001" width="324.50" height="29.00" fill="#d9d9d9" stroke="#383838" stroke-width="1.05"/>
<rect x="460.5" y="821.6000000000001" width="324.50" height="223.90" fill="none" stroke="#383838" stroke-width="1.05"/>
<text x="618.90" y="811.85" font-family="'Liberation Serif', serif" font-size="11.7" text-anchor="middle" fill="#000" textLength="48.60" lengthAdjust="spacingAndGlyphs">PACBIO</text>
<line x1="455.20" x2="460.50" y1="1035.10" y2="1035.10" stroke="#383838" stroke-width="1.0"/>
<text x="451.60" y="1040.75" font-family="'Liberation Serif', serif" font-size="15" text-anchor="end" fill="#000" textLength="7.55" lengthAdjust="spacingAndGlyphs">0</text>
<line x1="455.20" x2="460.50" y1="967.35" y2="967.35" stroke="#383838" stroke-width="1.0"/>
<text x="451.60" y="973.00" font-family="'Liberation Serif', serif" font-size="15" text-anchor="end" fill="#000" textLength="15.10" lengthAdjust="spacingAndGlyphs">20</text>
<line x1="455.20" x2="460.50" y1="899.60" y2="899.60" stroke="#383838" stroke-width="1.0"/>
<text x="451.60" y="905.25" font-family="'Liberation Serif', serif" font-size="15" text-anchor="end" fill="#000" textLength="15.10" lengthAdjust="spacingAndGlyphs">40</text>
<line x1="455.20" x2="460.50" y1="831.85" y2="831.85" stroke="#383838" stroke-width="1.0"/>
<text x="451.60" y="837.50" font-family="'Liberation Serif', serif" font-size="15" text-anchor="end" fill="#000" textLength="15.10" lengthAdjust="spacingAndGlyphs">60</text>
<line x1="521.00" x2="521.00" y1="1045.5" y2="1050.80" stroke="#383838" stroke-width="1.0"/>
<text x="521.00" y="1065.30" font-family="'Liberation Serif', serif" font-size="15.4" text-anchor="middle" fill="#000" textLength="30.40" lengthAdjust="spacingAndGlyphs">2GB</text>
<line x1="622.50" x2="622.50" y1="1045.5" y2="1050.80" stroke="#383838" stroke-width="1.0"/>
<text x="622.50" y="1065.30" font-family="'Liberation Serif', serif" font-size="15.4" text-anchor="middle" fill="#000" textLength="30.20" lengthAdjust="spacingAndGlyphs">8GB</text>
<line x1="724.00" x2="724.00" y1="1045.5" y2="1050.80" stroke="#383838" stroke-width="1.0"/>
<text x="724.00" y="1065.30" font-family="'Liberation Serif', serif" font-size="15.4" text-anchor="middle" fill="#000" textLength="38.90" lengthAdjust="spacingAndGlyphs">32GB</text>
<text x="619.80" y="1097.90" font-family="'Liberation Serif', serif" font-size="19.4" text-anchor="middle" fill="#000" textLength="89.60" lengthAdjust="spacingAndGlyphs">TotalRAM</text>
<g transform="translate(16.3 0) rotate(-90)" font-family="'Liberation Serif', serif" font-size="19.2" fill="#000"><text x="-674.4" y="0" textLength="42.6" lengthAdjust="spacingAndGlyphs">Time</text><text x="-624.1" y="0" textLength="169.6" lengthAdjust="spacingAndGlyphs">(microseconds/input</text><text x="-449.3" y="0" textLength="44.9" lengthAdjust="spacingAndGlyphs">byte)</text></g>
<g transform="translate(417.3 0) rotate(-90)" font-family="'Liberation Serif', serif" font-size="19.2" fill="#000"><text x="-674.4" y="0" textLength="42.6" lengthAdjust="spacingAndGlyphs">Time</text><text x="-624.1" y="0" textLength="169.6" lengthAdjust="spacingAndGlyphs">(microseconds/input</text><text x="-449.3" y="0" textLength="44.9" lengthAdjust="spacingAndGlyphs">byte)</text></g>
<text x="18.20" y="18.00" font-family="'Liberation Serif', serif" font-size="21" text-anchor="start" fill="#000" font-weight="bold">a</text>
<text x="403.40" y="18.00" font-family="'Liberation Serif', serif" font-size="21" text-anchor="start" fill="#000" font-weight="bold">b</text>
<rect x="261.60" y="1110.8" width="40.30" height="26" fill="#e6e6e6"/>
<rect x="237.90" y="1111.9" width="22.6" height="22.7" fill="#F8766D"/>
<text x="261.70" y="1128.30" font-family="'Liberation Sans', sans-serif" font-size="14.4" text-anchor="start" fill="#111" textLength="31.80" lengthAdjust="spacingAndGlyphs">eGap</text>
<rect x="326.90" y="1110.8" width="52.20" height="26" fill="#e6e6e6"/>
<rect x="303.20" y="1111.9" width="22.6" height="22.7" fill="#7CAE00"/>
<text x="327.00" y="1128.30" font-family="'Liberation Sans', sans-serif" font-size="14.4" text-anchor="start" fill="#111" textLength="43.60" lengthAdjust="spacingAndGlyphs">bcr-lcp</text>
<rect x="403.90" y="1110.8" width="79.40" height="26" fill="#e6e6e6"/>
<rect x="380.20" y="1111.9" width="22.6" height="22.7" fill="#00BFC4"/>
<text x="404.00" y="1128.30" font-family="'Liberation Sans', sans-serif" font-size="14.4" text-anchor="start" fill="#111" textLength="70.00" lengthAdjust="spacingAndGlyphs">bwt-lcp-em</text>
<rect x="508.30" y="1110.8" width="43.70" height="26" fill="#e6e6e6"/>
<rect x="484.60" y="1111.9" width="22.6" height="22.7" fill="#C77CFF"/>
<text x="508.40" y="1128.30" font-family="'Liberation Sans', sans-serif" font-size="14.4" text-anchor="start" fill="#111" textLength="35.80" lengthAdjust="spacingAndGlyphs">eGSA</text>
</svg>
</body>
</html>
